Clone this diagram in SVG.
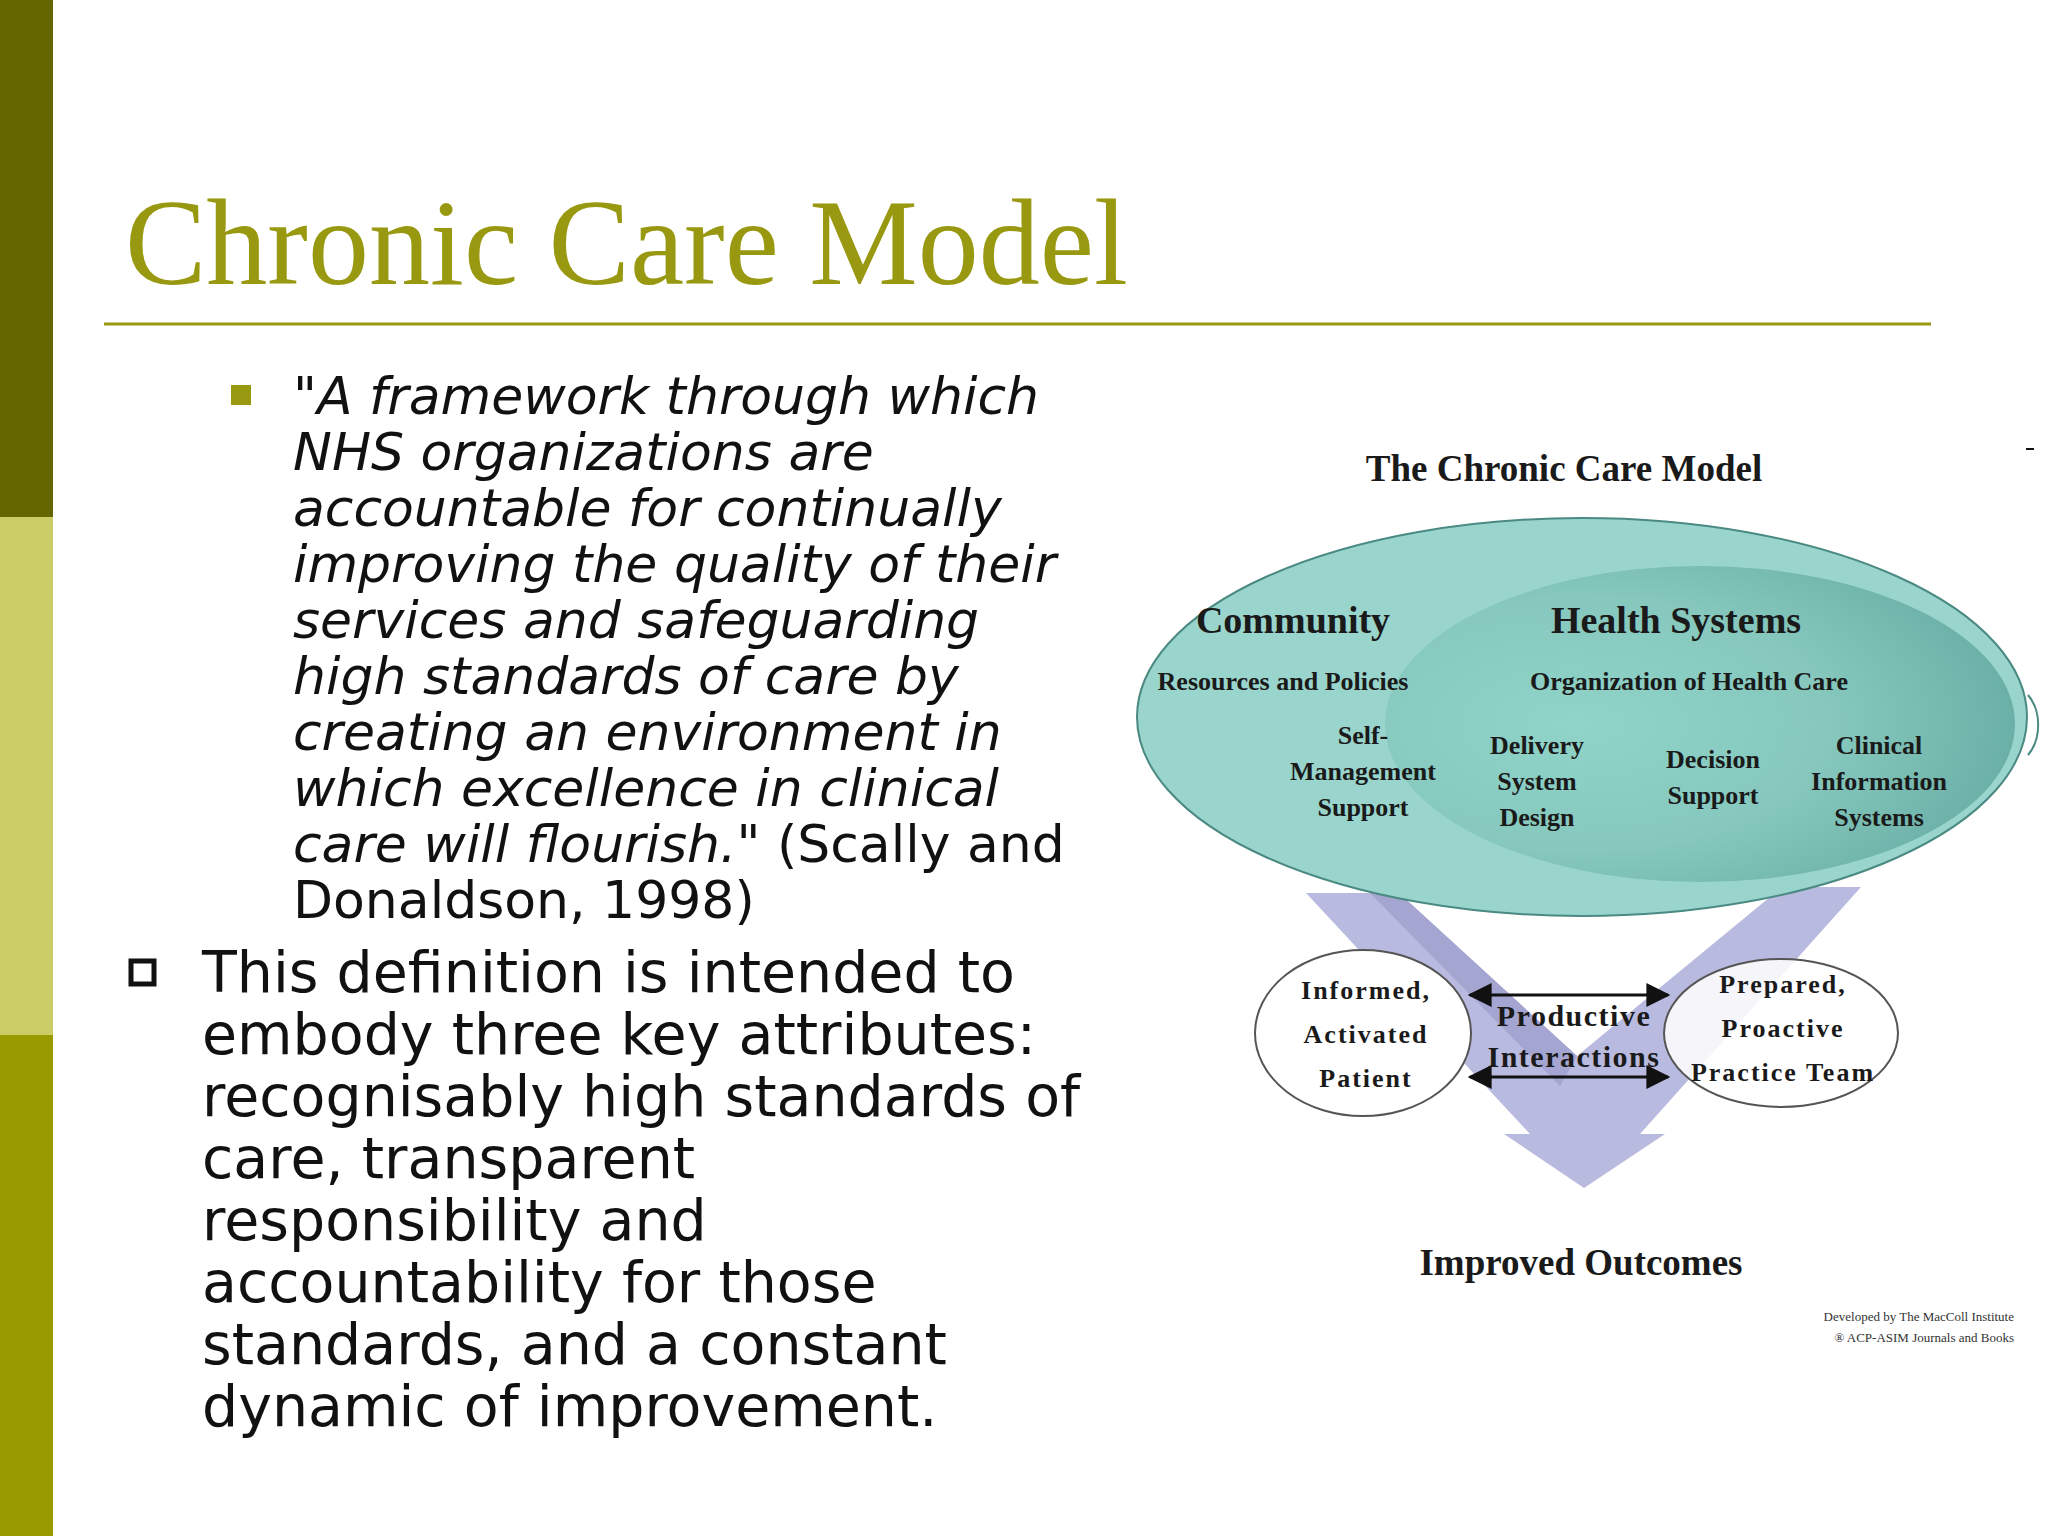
<svg xmlns="http://www.w3.org/2000/svg" width="2048" height="1536" viewBox="0 0 2048 1536">
<defs>
<style>
.it{font-family:"DejaVu Sans",Verdana,sans-serif;font-style:italic;font-size:52px;fill:#111}
.bt{font-family:"DejaVu Sans",Verdana,sans-serif;font-size:57px;fill:#111}
.d{font-family:"Liberation Serif",serif;font-weight:bold;fill:#1a1a1a;text-anchor:middle}
.n{font-size:26px}
.sm{font-size:26px;letter-spacing:2px}
</style>
<radialGradient id="inner" cx="0.3" cy="0.5" r="0.8">
<stop offset="0" stop-color="#8fd3c9"/><stop offset="0.5" stop-color="#86c8be"/><stop offset="1" stop-color="#62a89f"/>
</radialGradient>
<marker id="ah" viewBox="0 0 10 10" refX="9" refY="5" markerWidth="8" markerHeight="8" orient="auto-start-reverse"><path d="M0,0L10,5L0,10z" fill="#111"/></marker>
<clipPath id="cp"><rect x="1133" y="0" width="915" height="1536"/></clipPath>
</defs>
<rect width="2048" height="1536" fill="#fff"/>
<rect x="0" y="0" width="53" height="517" fill="#666600"/>
<rect x="0" y="517" width="53" height="518" fill="#cccc66"/>
<rect x="0" y="1035" width="53" height="501" fill="#999900"/>
<text x="125" y="284" font-family="Liberation Serif,serif" font-size="122" fill="#999911">Chronic Care Model</text>
<line x1="104" y1="324" x2="1931" y2="324" stroke="#999911" stroke-width="3"/>
<rect x="231" y="385" width="20" height="20" fill="#999911"/>
<text class="it"><tspan x="293" y="414">"A framework through which</tspan><tspan x="293" y="470">NHS organizations are</tspan><tspan x="293" y="526">accountable for continually</tspan><tspan x="293" y="582">improving the quality of their</tspan><tspan x="293" y="638">services and safeguarding</tspan><tspan x="293" y="694">high standards of care by</tspan><tspan x="293" y="750">creating an environment in</tspan><tspan x="293" y="806">which excellence in clinical</tspan><tspan x="293" y="862">care will flourish." <tspan font-style="normal">(Scally and</tspan></tspan><tspan x="293" y="918" font-style="normal">Donaldson, 1998)</tspan></text>
<rect x="131" y="961" width="23" height="23" fill="none" stroke="#111" stroke-width="5"/>
<text class="bt"><tspan x="202" y="992">This definition is intended to</tspan><tspan x="202" y="1054">embody three key attributes:</tspan><tspan x="202" y="1116">recognisably high standards of</tspan><tspan x="202" y="1178">care, transparent</tspan><tspan x="202" y="1240">responsibility and</tspan><tspan x="202" y="1302">accountability for those</tspan><tspan x="202" y="1364">standards, and a constant</tspan><tspan x="202" y="1426">dynamic of improvement.</tspan></text>

<g id="diagram">
<text class="d" x="1564" y="481" font-size="37">The Chronic Care Model</text>
<g id="arrow"><polygon points="1306,893 1399,893 1577,1056 1782,887 1861,887 1640,1134 1665,1134 1584,1188 1504,1134 1530,1134" fill="#b9badf"/><polygon points="1399,893 1577,1056 1560,1086 1370,893" fill="#a4a5d0"/></g>
<g id="big" clip-path="url(#cp)">
<ellipse cx="1582" cy="717" rx="445" ry="199" fill="#99d5cc" stroke="#4a8a82" stroke-width="2"/>
<ellipse cx="1700" cy="724" rx="315" ry="158" fill="url(#inner)"/>
<path d="M2028,695 A30,40 0 0,1 2028,755" fill="none" stroke="#4a8a82" stroke-width="2"/>
</g>
<text class="d" x="1293" y="633" font-size="38">Community</text>
<text class="d" x="1676" y="633" font-size="38">Health Systems</text>
<text class="d n" x="1283" y="690">Resources and Policies</text>
<text class="d n" x="1689" y="690">Organization of Health Care</text>
<text class="d n"><tspan x="1363" y="744">Self-</tspan><tspan x="1363" y="780">Management</tspan><tspan x="1363" y="816">Support</tspan></text>
<text class="d n"><tspan x="1537" y="754">Delivery</tspan><tspan x="1537" y="790">System</tspan><tspan x="1537" y="826">Design</tspan></text>
<text class="d n"><tspan x="1713" y="768">Decision</tspan><tspan x="1713" y="804">Support</tspan></text>
<text class="d n"><tspan x="1879" y="754">Clinical</tspan><tspan x="1879" y="790">Information</tspan><tspan x="1879" y="826">Systems</tspan></text>
<g id="patient"><ellipse cx="1363" cy="1033" rx="108" ry="83" fill="#fff" stroke="#555" stroke-width="2"/>
<text class="d sm"><tspan x="1366" y="999">Informed,</tspan><tspan x="1366" y="1043">Activated</tspan><tspan x="1366" y="1087">Patient</tspan></text></g>
<g id="team"><ellipse cx="1781" cy="1033" rx="117" ry="74" fill="#fff" fill-opacity="0.85" stroke="#555" stroke-width="2"/>
<text class="d sm"><tspan x="1783" y="993">Prepared,</tspan><tspan x="1783" y="1037">Proactive</tspan><tspan x="1783" y="1081">Practice Team</tspan></text></g>
<g id="connectors" stroke="#111" stroke-width="3"><line x1="1470" y1="995" x2="1668" y2="995" marker-start="url(#ah)" marker-end="url(#ah)"/><line x1="1470" y1="1077" x2="1668" y2="1077" marker-start="url(#ah)" marker-end="url(#ah)"/></g>
<text class="d" font-size="30" letter-spacing="1.5"><tspan x="1574" y="1026">Productive</tspan><tspan x="1574" y="1067">Interactions</tspan></text>
<text class="d" x="1581" y="1275" font-size="37">Improved Outcomes</text>
<text font-family="Liberation Serif,serif" font-size="13" fill="#333" text-anchor="end"><tspan x="2014" y="1321">Developed by The MacColl Institute</tspan><tspan x="2014" y="1342">® ACP-ASIM Journals and Books</tspan></text>
<line x1="2026" y1="449" x2="2034" y2="449" stroke="#111" stroke-width="2"/>
</g>
</svg>
